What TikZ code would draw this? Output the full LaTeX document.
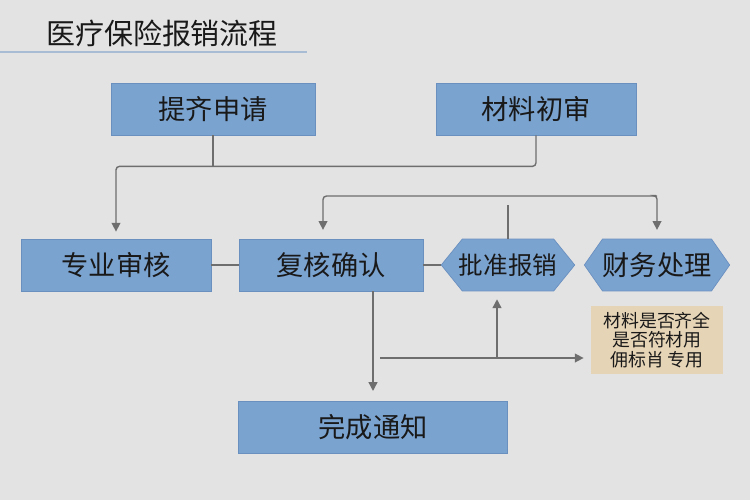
\documentclass[tikz,border=0pt]{standalone}
\usepackage{fontspec}
\setmainfont{Noto Sans CJK SC}
\usetikzlibrary{arrows.meta,shapes.symbols}
\definecolor{bg}{HTML}{E3E3E3}
\definecolor{boxblue}{HTML}{7BA3D0}
\definecolor{boxedge}{HTML}{6A90C0}
\definecolor{notetan}{HTML}{E6D4B6}
\definecolor{linegray}{HTML}{6E6E6E}
\definecolor{rulecol}{HTML}{A8BCD4}
\tikzset{
 box/.style={draw=boxedge,fill=boxblue,minimum height=1.04cm,inner sep=0pt,
  text=black!90,font=\fontsize{15.5}{18}\selectfont},
 hexbox/.style={box,signal,signal to=east and west,signal pointer angle=104},
 conn/.style={draw=linegray,line width=0.8pt},
 arr/.style={conn,-{Triangle[width=5pt,length=5pt]}},
}
\begin{document}
\begin{tikzpicture}[x=0.02cm,y=-0.02cm]
 \fill[bg](0,0) rectangle (750,500);
 \useasboundingbox (0,0) rectangle (750,500);
 % title
 \node[font=\fontsize{16.5}{20}\selectfont,text=black!90] (title) at (162,33) {医疗保险报销流程};
 \draw[rulecol,line width=1.2pt](0,52)--(307,52);
 % steps
 \node[box,minimum width=4.08cm] (apply) at (213,109) {提齐申请};
 \node[box,minimum width=4cm] (review) at (536,109) {材料初审};
 \node[box,minimum width=3.8cm] (audit) at (116,265) {专业审核};
 \node[box,minimum width=3.68cm] (confirm) at (331,265) {复核确认};
 \node[hexbox,inner xsep=-2pt,signal pointer angle=102,font=\fontsize{14}{16}\selectfont] (approve) at (508,265) {批准报销};
 \node[hexbox,signal pointer angle=110] (finance) at (657,265) {财务处理};
 \node[box,minimum width=5.38cm] (done) at (373,427) {完成通知};
 \node[fill=notetan,minimum width=2.64cm,minimum height=1.38cm,inner sep=0pt,align=center,
  text=black!90,font=\fontsize{10.2}{11.3}\selectfont] (note) at (657,340) {材料是否齐全\\是否符材用\\佣标肖 专用};
 % connectors
 \coordinate (bustop) at (657,196);
 \coordinate (fork) at (497,358);
 \coordinate (branch) at (380,358);
 \draw[conn] (apply.south) -- ++(0,31);
 \draw[arr,rounded corners=2pt,shorten >=4pt] (review.south) -- ++(0,31) -| (audit.north);
 \draw[arr,rounded corners=2pt,shorten >=5pt] (bustop) -| ([xshift=-0.16cm]confirm.north);
 \draw[arr,rounded corners=2pt,shorten >=5pt] (confirm.north -| bustop) ++(-1,-43) -| (finance.north);
 \draw[conn] (approve.north) -- ++(0,-34);
 \draw[conn] (audit.east) -- (confirm.west);
 \draw[conn] (confirm.east) -- (approve.west);
 \draw[arr,shorten >=5.5pt] (confirm.south -| done.north) -- (done.north);
 \draw[arr,shorten >=4pt] (branch) -- (branch -| note.west);
 \draw[arr,shorten >=4.5pt] (fork) -- (fork |- approve.south);
\end{tikzpicture}
\end{document}
